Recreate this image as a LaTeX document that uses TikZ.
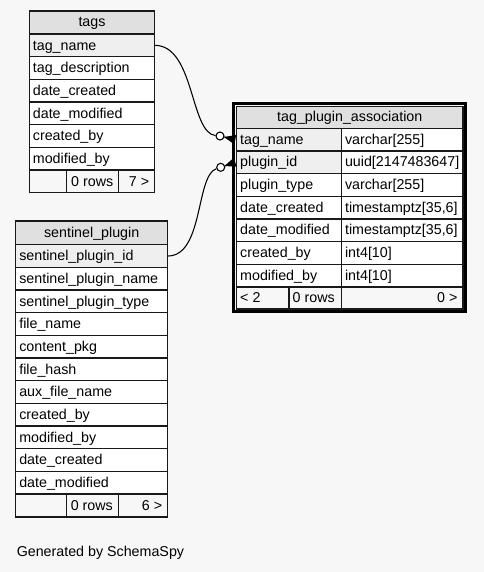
\documentclass[tikz,border=0pt]{standalone}
\usepackage{fontspec}
\setmainfont{Liberation Sans}
\usetikzlibrary{calc}
\definecolor{bggray}{HTML}{F7F7F7}
\definecolor{hdrgray}{HTML}{E0E0E0}
\definecolor{pkgray}{HTML}{EFEFEF}
\begin{document}
\begin{tikzpicture}[
  x=0.75pt,y=-0.75pt,
  cell/.style={draw=black!90,line width=1.1pt,inner sep=0pt,outer sep=0pt,
    anchor=north west,minimum height=17pt},
  hdr/.style={cell,fill=hdrgray},
  foot/.style={cell,fill=bggray},
  lbl/.style={font=\fontsize{10.7}{12}\selectfont,inner sep=0pt},
  edge/.style={line width=0.8pt},
  odot/.style={circle,draw=black,fill=white,line width=0.8pt,inner sep=0pt,
    minimum size=6pt},
]
\fill[bggray,use as bounding box] (0,0) rectangle (484,572);
\def\rh{22.67}

% ----- tags -----
\node[hdr,minimum width=94.05pt,minimum height=17.25pt] (tags) at (29.3,11) {};
\node[lbl,anchor=base] (tags-h) at ([yshift=5.3pt]tags.south) {tags};
\foreach \c/\f [count=\i] in {tag\_name/pkgray,tag\_description/white,
    date\_created/white,date\_modified/white,created\_by/white,modified\_by/white}{
  \node[cell,fill=\f,minimum width=94.05pt] (tags-\i) at (29.3,{34+(\i-1)*\rh}) {};
  \node[lbl,anchor=base west] (tags-\i-t) at ([xshift=2.5pt,yshift=5pt]tags-\i.south west) {\c};
}
\node[foot,minimum width=28.05pt] (tags-f1) at (29.3,170) {};
\node[foot,minimum width=39pt] (tags-f2) at (66.7,170) {};
\node[foot,minimum width=27pt] (tags-f3) at (118.7,170) {};
\node[lbl,anchor=base west] (tags-rows) at ([xshift=3.2pt,yshift=5pt]tags-f2.south west) {0 rows};
\node[lbl,anchor=base east] (tags-kids) at ([xshift=-4pt,yshift=5pt]tags-f3.south east) {7 >};

% ----- sentinel_plugin -----
\node[hdr,minimum width=114pt,minimum height=17.8pt] (plug) at (15.7,221) {};
\node[lbl,anchor=base] (plug-h) at ([yshift=5.5pt]plug.south) {sentinel\_plugin};
\foreach \c/\f [count=\i] in {sentinel\_plugin\_id/pkgray,sentinel\_plugin\_name/white,
    sentinel\_plugin\_type/white,file\_name/white,content\_pkg/white,file\_hash/white,
    aux\_file\_name/white,created\_by/white,modified\_by/white,date\_created/white,
    date\_modified/white}{
  \node[cell,fill=\f,minimum width=114pt] (plug-\i) at (15.7,{244.7+(\i-1)*\rh}) {};
  \node[lbl,anchor=base west] (plug-\i-t) at ([xshift=2.5pt,yshift=5pt]plug-\i.south west) {\c};
}
\node[foot,minimum width=37.95pt] (plug-f1) at (15.7,494.1) {};
\node[foot,minimum width=39.3pt] (plug-f2) at (66.3,494.1) {};
\node[foot,minimum width=36.75pt] (plug-f3) at (118.7,494.1) {};
\node[lbl,anchor=base west] (plug-rows) at ([xshift=3.2pt,yshift=5pt]plug-f2.south west) {0 rows};
\node[lbl,anchor=base east] (plug-kids) at ([xshift=-4pt,yshift=5pt]plug-f3.south east) {6 >};

% ----- tag_plugin_association -----
\node[hdr,minimum width=169.9pt,minimum height=16.5pt] (tpa) at (236.5,106.3) {};
\node[lbl,anchor=base] (tpa-h) at ([yshift=5.2pt]tpa.south) {tag\_plugin\_association};
\foreach \n/\t/\f [count=\i] in {tag\_name/varchar[255]/pkgray,
    plugin\_id/uuid[2147483647]/pkgray,plugin\_type/varchar[255]/white,
    date\_created/{timestamptz[35,6]}/white,date\_modified/{timestamptz[35,6]}/white,
    created\_by/int4[10]/white,modified\_by/int4[10]/white}{
  \node[cell,fill=\f,minimum width=78.6pt] (tpa-\i) at (236.5,{128.3+(\i-1)*\rh}) {};
  \node[cell,fill=white,minimum width=91.3pt] (tpa-\i-ty) at (341.3,{128.3+(\i-1)*\rh}) {};
  \node[lbl,anchor=base west] (tpa-\i-t) at ([xshift=2.6pt,yshift=5pt]tpa-\i.south west) {\n};
  \node[lbl,anchor=base west] (tpa-\i-tt) at ([xshift=2.6pt,yshift=5pt]tpa-\i-ty.south west) {\t};
}
\node[foot,minimum width=39.4pt,minimum height=16.5pt] (tpa-f1) at (236.5,287) {};
\node[foot,minimum width=39.2pt,minimum height=16.5pt] (tpa-f2) at (289,287) {};
\node[foot,minimum width=91.3pt,minimum height=16.5pt] (tpa-f3) at (341.3,287) {};
\node[lbl,anchor=base west] (tpa-par) at ([xshift=2.6pt,yshift=5pt]tpa-f1.south west) {< 2};
\node[lbl,anchor=base west] (tpa-rows) at ([xshift=2.6pt,yshift=5pt]tpa-f2.south west) {0 rows};
\node[lbl,anchor=base east] (tpa-kids) at ([xshift=-4pt,yshift=5pt]tpa-f3.south east) {0 >};

% ----- relationships -----
\node[odot] (tags-o) at (220,136) {};
\node[odot] (plug-o) at (220.7,167.3) {};
\coordinate (tpa-1-in) at ([xshift=-1pt]tpa-1.west);
\coordinate (tpa-2-in) at ([xshift=-1pt]tpa-2.west);
\draw[edge] (tags-1.east) .. controls +(40,0) and +(-30,-3) .. (tags-o);
\draw[edge] (plug-1.east) .. controls +(36,0) and +(-25,8) .. (plug-o);
\draw[edge] (tags-o) -- (tpa-1-in);
\draw[edge] (plug-o) -- (tpa-2-in);
\fill ($(tags-o)!3pt!(tpa-1-in)$) -- ($(tpa-1-in)!3.5pt!90:(tags-o)$)
  -- ($(tpa-1-in)!3.5pt!-90:(tags-o)$) -- cycle;
\fill ($(plug-o)!3pt!(tpa-2-in)$) -- ($(tpa-2-in)!3.5pt!90:(plug-o)$)
  -- ($(tpa-2-in)!3.5pt!-90:(plug-o)$) -- cycle;
\draw[line width=2.5pt] (233.8,103.8) rectangle (465.5,311.5);

\node[lbl,anchor=base west] (credit) at (16.5,556.5) {Generated by SchemaSpy};
\end{tikzpicture}
\end{document}
